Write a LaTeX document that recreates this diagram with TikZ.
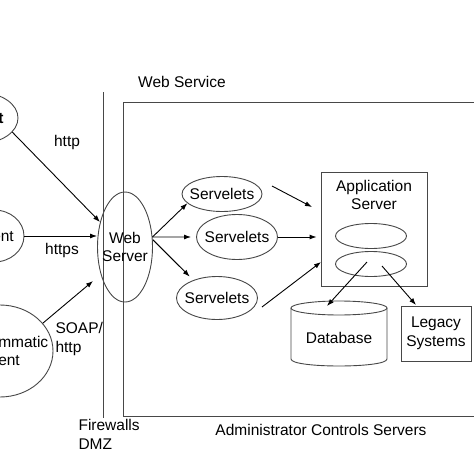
\documentclass[tikz,border=0pt]{standalone}
\usepackage{fontspec}
\setmainfont{Liberation Sans}
\usetikzlibrary{shapes.geometric,arrows.meta}
\begin{document}
\begin{tikzpicture}[x=1pt,y=-1pt,
  every node/.style={font=\fontsize{15.5}{18.5}\selectfont, text=black},
  shp/.style={draw=black!72, line width=0.9pt},
  ell/.style={shp, ellipse, inner sep=0pt},
  arr/.style={draw=black, line width=0.9pt, -{Latex[length=7pt,width=5pt]}}]
\useasboundingbox (0,0) rectangle (474,474);
\clip (0,0) rectangle (474,474);

% clients (partly cut off at the left)
\node[ell, minimum width=72, minimum height=50,
  label={[font=\fontsize{15.5}{18.5}\selectfont\bfseries]center:Client}] (c1) at (-18,118) {};
\node[ell, minimum width=60, minimum height=52,
  label={center:Client}] (c2) at (-6,236) {};
\node[ell, minimum width=106, minimum height=92,
  label={[align=center]center:Programmatic\\Client}] (c3) at (0,351) {};

% firewall line
\draw[shp] (103,92) -- (103,418);
% web service frame
\draw[shp] (474,102) -- (123,102) -- (123,416) -- (474,416);

\node (wsl) at (182,82) {Web Service};
\node[ell, minimum width=55, minimum height=110,
  label={[align=center]center:Web\\Server}] (ws) at (125,247) {};

\node[ell, minimum width=80, minimum height=35, label={center:Servelets}] (s1) at (222,194) {};
\node[ell, minimum width=81, minimum height=45, label={center:Servelets}] (s2) at (237,237) {};
\node[ell, minimum width=81, minimum height=43, label={center:Servelets}] (s3) at (217,298) {};

% application server
\node[shp, minimum width=106, minimum height=114] (app) at (374,229) {};
\node[align=center] (appt) at (374,195) {Application\\Server};
\node[ell, minimum width=71, minimum height=25] (ae1) at (371,236) {};
\node[ell, minimum width=71, minimum height=25] (ae2) at (371,264) {};

% database cylinder
\draw[shp] (339,308) ellipse [x radius=48, y radius=7];
\draw[shp] (291,308) -- (291,359) .. controls (291,368.33) and (387,368.33) .. (387,359) -- (387,308);
\node (db) at (339,338) {Database};

\node[shp, minimum width=70, minimum height=55, align=center] (leg) at (436,333.5) {Legacy\\Systems};

% labels
\node (lhttp) at (67,142) {http};
\node (lhttps) at (62,250) {https};
\node[align=left, anchor=west] (lsoap) at (52,339) {SOAP/\\http};
\node[align=left, anchor=west] (lfw) at (75,434.5) {Firewalls\\DMZ};
\node (ladm) at (321,430) {Administrator Controls Servers};

% free arrow ends
\coordinate (c3e) at (93,281);
\coordinate (p1) at (272,186);
\coordinate (p1e) at (312,207);
\coordinate (p3) at (262,307);
\coordinate (p3e) at (321,262);
\coordinate (d1) at (367,262);
\coordinate (d1e) at (327,306);
\coordinate (l1) at (382,266);
\coordinate (l1e) at (416,305);

% arrows
\draw[arr] (c1.-25) -- (ws.135);
\draw[arr] (c2.east) -- (c2.east -| ws.west);
\draw[arr] (c3.33) -- (c3e);
\draw[arr] (ws.20) -- (s1.195);
\draw[arr, shorten >=5pt] (ws.20) -- (s2.west);
\draw[arr, shorten >=5pt] (ws.15) -- (s3.143);
\draw[arr] (p1) -- (p1e);
\draw[arr, shorten >=4pt] (s2.east) -- (s2.east -| app.west);
\draw[arr] (p3) -- (p3e);
\draw[arr] (d1) -- (d1e);
\draw[arr] (l1) -- (l1e);
\end{tikzpicture}
\end{document}
